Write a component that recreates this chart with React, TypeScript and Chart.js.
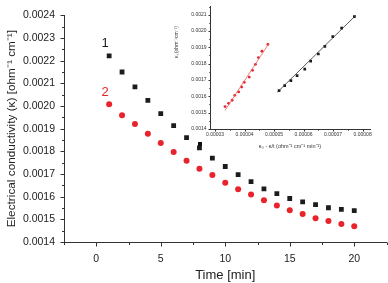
import React, { useEffect, useRef } from "react";
import { Chart, registerables } from "chart.js";
Chart.register(...registerables);

// ---- main chart data ----
const timeMin = [1, 2, 3, 4, 5, 6, 7, 8, 9, 10, 11, 12, 13, 14, 15, 16, 17, 18, 19, 20];
const kappa1 = [0.002221, 0.00215, 0.002084, 0.002025, 0.001966, 0.001913, 0.00186, 0.001815, 0.00177, 0.001733,
  0.001697, 0.001666, 0.001634, 0.001613, 0.001592, 0.001577, 0.001565, 0.001551, 0.001544, 0.001538];
const kappa2 = [0.002008, 0.001959, 0.00192, 0.001878, 0.001837, 0.001797, 0.001758, 0.001723, 0.001695, 0.001661,
  0.001633, 0.00161, 0.001584, 0.001561, 0.00154, 0.001523, 0.001505, 0.001493, 0.001479, 0.001469];
const mainXTicks = [0, 5, 10, 15, 20];
const mainYTicks = [0.0014, 0.0015, 0.0016, 0.0017, 0.0018, 0.0019, 0.002, 0.0021, 0.0022, 0.0023, 0.0024];
const seriesLabels = ["1", "2"];

// ---- inset data ----
const inset2X = [3.34e-5, 3.46e-5, 3.58e-5, 3.67e-5, 3.8e-5, 3.9e-5, 3.99e-5, 4.16e-5, 4.27e-5, 4.37e-5, 4.47e-5, 4.59e-5, 4.79e-5];
const inset2Y = [0.001537, 0.001557, 0.001576, 0.001606, 0.001627, 0.001657, 0.001686, 0.001718, 0.001759, 0.001796, 0.001837, 0.001876, 0.001918];
const inset1X = [5.17e-5, 5.36e-5, 5.57e-5, 5.78e-5, 6.04e-5, 6.24e-5, 6.5e-5, 6.72e-5, 6.99e-5, 7.29e-5, 7.72e-5];
const inset1Y = [0.001635, 0.001665, 0.001696, 0.001727, 0.001767, 0.001816, 0.001859, 0.001906, 0.001965, 0.002018, 0.002088];
const fit2X = [3.34e-5, 4.83e-5];
const fit2Y = [0.001514, 0.001925];
const fit1X = [5.11e-5, 7.77e-5];
const fit1Y = [0.001625, 0.002096];
const insetXTicks = [0.00003, 0.00004, 0.00005, 0.00006, 0.00007, 0.00008];
const insetYTicks = [0.0014, 0.0015, 0.0016, 0.0017, 0.0018, 0.0019, 0.002, 0.0021];

const FONT = "Arial, 'Liberation Sans', sans-serif";
const BLACK = "#1c1c1c";
const RED = "#e8232b";
const AXIS = "#333333";

function pts(xs: number[], ys: number[]) {
  return xs.map((x, i) => ({ x, y: ys[i] }));
}

function minors(major: number[], lo: number, hi: number) {
  const out: number[] = [];
  const step = major[1] - major[0];
  const all = [major[0] - step, ...major, major[major.length - 1] + step];
  for (let i = 0; i < all.length - 1; i++) {
    const m = (all[i] + all[i + 1]) / 2;
    if (m >= lo - 1e-12 && m <= hi + 1e-12) out.push(m);
  }
  return out;
}

function tickPlugin(id: string, xMajor: number[], yMajor: number[], majLen: number, minLen: number) {
  return {
    id,
    afterDraw(chart: any) {
      const ctx = chart.ctx;
      const xs = chart.scales.x;
      const ys = chart.scales.y;
      const a = chart.chartArea;
      ctx.save();
      ctx.strokeStyle = AXIS;
      ctx.lineWidth = 1;
      ctx.beginPath();
      const yl = Math.round(a.left) + 0.5;
      const xb = Math.round(a.bottom) + 0.5;
      const drawY = (v: number, len: number) => {
        const p = Math.round(ys.getPixelForValue(v)) + 0.5;
        ctx.moveTo(yl - len, p);
        ctx.lineTo(yl, p);
      };
      const drawX = (v: number, len: number) => {
        const p = Math.round(xs.getPixelForValue(v)) + 0.5;
        ctx.moveTo(p, xb);
        ctx.lineTo(p, xb + len);
      };
      yMajor.forEach((v) => drawY(v, majLen));
      minors(yMajor, ys.min, ys.max).forEach((v) => drawY(v, minLen));
      xMajor.forEach((v) => drawX(v, majLen));
      minors(xMajor, xs.min, xs.max).forEach((v) => drawX(v, minLen));
      ctx.stroke();
      ctx.restore();
    },
  };
}

const seriesLabelPlugin = {
  id: "seriesLabels",
  afterDatasetsDraw(chart: any) {
    const ctx = chart.ctx;
    ctx.save();
    ctx.font = `13px ${FONT}`;
    ctx.textAlign = "center";
    ctx.textBaseline = "middle";
    [0, 1].forEach((di) => {
      const el = chart.getDatasetMeta(di).data[0];
      ctx.fillStyle = di === 0 ? BLACK : RED;
      ctx.fillText(seriesLabels[di], el.x - 4, el.y - 12);
    });
    ctx.restore();
  },
};

const insetDecor = {
  id: "insetDecor",
  afterDraw(chart: any) {
    const ctx = chart.ctx;
    const a = chart.chartArea;
    ctx.save();
    ctx.fillStyle = "#333";
    ctx.font = `5px ${FONT}`;
    ctx.textAlign = "center";
    ctx.textBaseline = "middle";
    ctx.translate(a.left - 33, 42);
    ctx.rotate(-Math.PI / 2);
    ctx.fillText("κₜ (ohm⁻¹cm⁻¹)", 0, 0);
    ctx.restore();
    ctx.save();
    ctx.fillStyle = "#111";
    ctx.fillRect(a.left - 12, a.bottom + 13, 4, 4);
    ctx.restore();
  },
};

export default function App() {
  const mainRef = useRef<HTMLCanvasElement>(null);
  const insetRef = useRef<HTMLCanvasElement>(null);

  useEffect(() => {
    const main = new Chart(mainRef.current as HTMLCanvasElement, {
      type: "scatter",
      data: {
        datasets: [
          {
            label: "1",
            data: pts(timeMin, kappa1),
            pointStyle: "rect",
            pointRadius: 3.4,
            backgroundColor: BLACK,
            borderColor: BLACK,
            borderWidth: 0,
          },
          {
            label: "2",
            data: pts(timeMin, kappa2),
            pointStyle: "circle",
            pointRadius: 3,
            backgroundColor: RED,
            borderColor: RED,
            borderWidth: 0,
          },
        ],
      },
      options: {
        animation: false,
        responsive: false,
        devicePixelRatio: 1,
        layout: { autoPadding: false, padding: { top: 6, right: 1.5, left: 0, bottom: 0 } },
        plugins: { legend: { display: false }, tooltip: { enabled: false } },
        scales: {
          x: {
            type: "linear",
            min: -2.5,
            max: 22.5,
            afterBuildTicks: (s: any) => {
              s.ticks = mainXTicks.map((v) => ({ value: v }));
            },
            afterFit: (s: any) => {
              s.height = 41;
            },
            grid: { display: true, drawOnChartArea: false, drawTicks: false },
            border: { display: true, color: AXIS, width: 1 },
            ticks: {
              padding: 11,
              maxRotation: 0,
              color: "#222",
              font: { family: FONT, size: 10.5 },
              callback: (v: any) => String(v),
            },
            title: {
              display: true,
              text: "Time [min]",
              color: "#222",
              font: { family: FONT, size: 13 },
              padding: { top: 0, bottom: 0 },
            },
          },
          y: {
            type: "linear",
            min: 0.0014,
            max: 0.0024,
            afterBuildTicks: (s: any) => {
              s.ticks = mainYTicks.map((v) => ({ value: v }));
            },
            afterFit: (s: any) => {
              s.width = 64;
            },
            grid: { display: true, drawOnChartArea: false, drawTicks: false },
            border: { display: true, color: AXIS, width: 1 },
            ticks: {
              padding: 9,
              color: "#222",
              font: { family: FONT, size: 10.5 },
              callback: (v: any) => Number(v).toFixed(4),
            },
            title: {
              display: true,
              text: "Electrical conductivity (κ) [ohm⁻¹ cm⁻¹]",
              color: "#222",
              font: { family: FONT, size: 11.8 },
              padding: { top: 5, bottom: 0 },
            },
          },
        },
      },
      plugins: [tickPlugin("mainTicks", mainXTicks, mainYTicks, 4, 2.5), seriesLabelPlugin],
    } as any);

    const inset = new Chart(insetRef.current as HTMLCanvasElement, {
      type: "scatter",
      data: {
        datasets: [
          {
            label: "fit 2",
            type: "line",
            data: pts(fit2X, fit2Y),
            borderColor: "#ee5a5a",
            borderWidth: 0.8,
            pointRadius: 0,
            showLine: true,
          },
          {
            label: "fit 1",
            type: "line",
            data: pts(fit1X, fit1Y),
            borderColor: "#333",
            borderWidth: 0.8,
            pointRadius: 0,
            showLine: true,
          },
          {
            label: "2",
            data: pts(inset2X, inset2Y),
            pointStyle: "circle",
            pointRadius: 1.4,
            backgroundColor: RED,
            borderWidth: 0,
          },
          {
            label: "1",
            data: pts(inset1X, inset1Y),
            pointStyle: "rect",
            pointRadius: 1.9,
            backgroundColor: BLACK,
            borderWidth: 0,
          },
        ],
      },
      options: {
        animation: false,
        responsive: false,
        devicePixelRatio: 1,
        layout: { autoPadding: false, padding: { top: 2, right: 18, left: 0, bottom: 0 } },
        plugins: { legend: { display: false }, tooltip: { enabled: false } },
        scales: {
          x: {
            type: "linear",
            min: 0.0000283,
            max: 0.0000825,
            afterBuildTicks: (s: any) => {
              s.ticks = insetXTicks.map((v) => ({ value: v }));
            },
            afterFit: (s: any) => {
              s.height = 21;
            },
            grid: { display: true, drawOnChartArea: false, drawTicks: false },
            border: { display: true, color: AXIS, width: 1 },
            ticks: {
              padding: 3,
              maxRotation: 0,
              autoSkip: false,
              color: "#333",
              font: { family: FONT, size: 5 },
              callback: (v: any) => Number(v).toFixed(5),
            },
            title: {
              display: true,
              text: "κ₀ - κ/t (ohm⁻¹ cm⁻¹ min⁻¹)",
              color: "#333",
              font: { family: FONT, size: 5.5 },
              padding: { top: 0, bottom: 0 },
            },
          },
          y: {
            type: "linear",
            min: 0.0014,
            max: 0.00215,
            afterBuildTicks: (s: any) => {
              s.ticks = insetYTicks.map((v) => ({ value: v }));
            },
            afterFit: (s: any) => {
              s.width = 45;
            },
            grid: { display: true, drawOnChartArea: false, drawTicks: false },
            border: { display: true, color: AXIS, width: 1 },
            ticks: {
              padding: 3.5,
              autoSkip: false,
              color: "#333",
              font: { family: FONT, size: 5 },
              callback: (v: any) => Number(v).toFixed(4),
            },
          },
        },
      },
      plugins: [tickPlugin("insetTicks", insetXTicks, insetYTicks, 2, 1.2), insetDecor],
    } as any);

    return () => {
      main.destroy();
      inset.destroy();
    };
  }, []);

  return (
    <div style={{ position: "fixed", left: 0, top: 0, width: 388, height: 283, background: "#fff" }}>
      <canvas
        ref={mainRef}
        width={388}
        height={283}
        style={{ position: "absolute", left: 0, top: 0, width: 388, height: 283 }}
      />
      <canvas
        ref={insetRef}
        width={223}
        height={150}
        style={{ position: "absolute", left: 165, top: 0, width: 223, height: 150 }}
      />
    </div>
  );
}
